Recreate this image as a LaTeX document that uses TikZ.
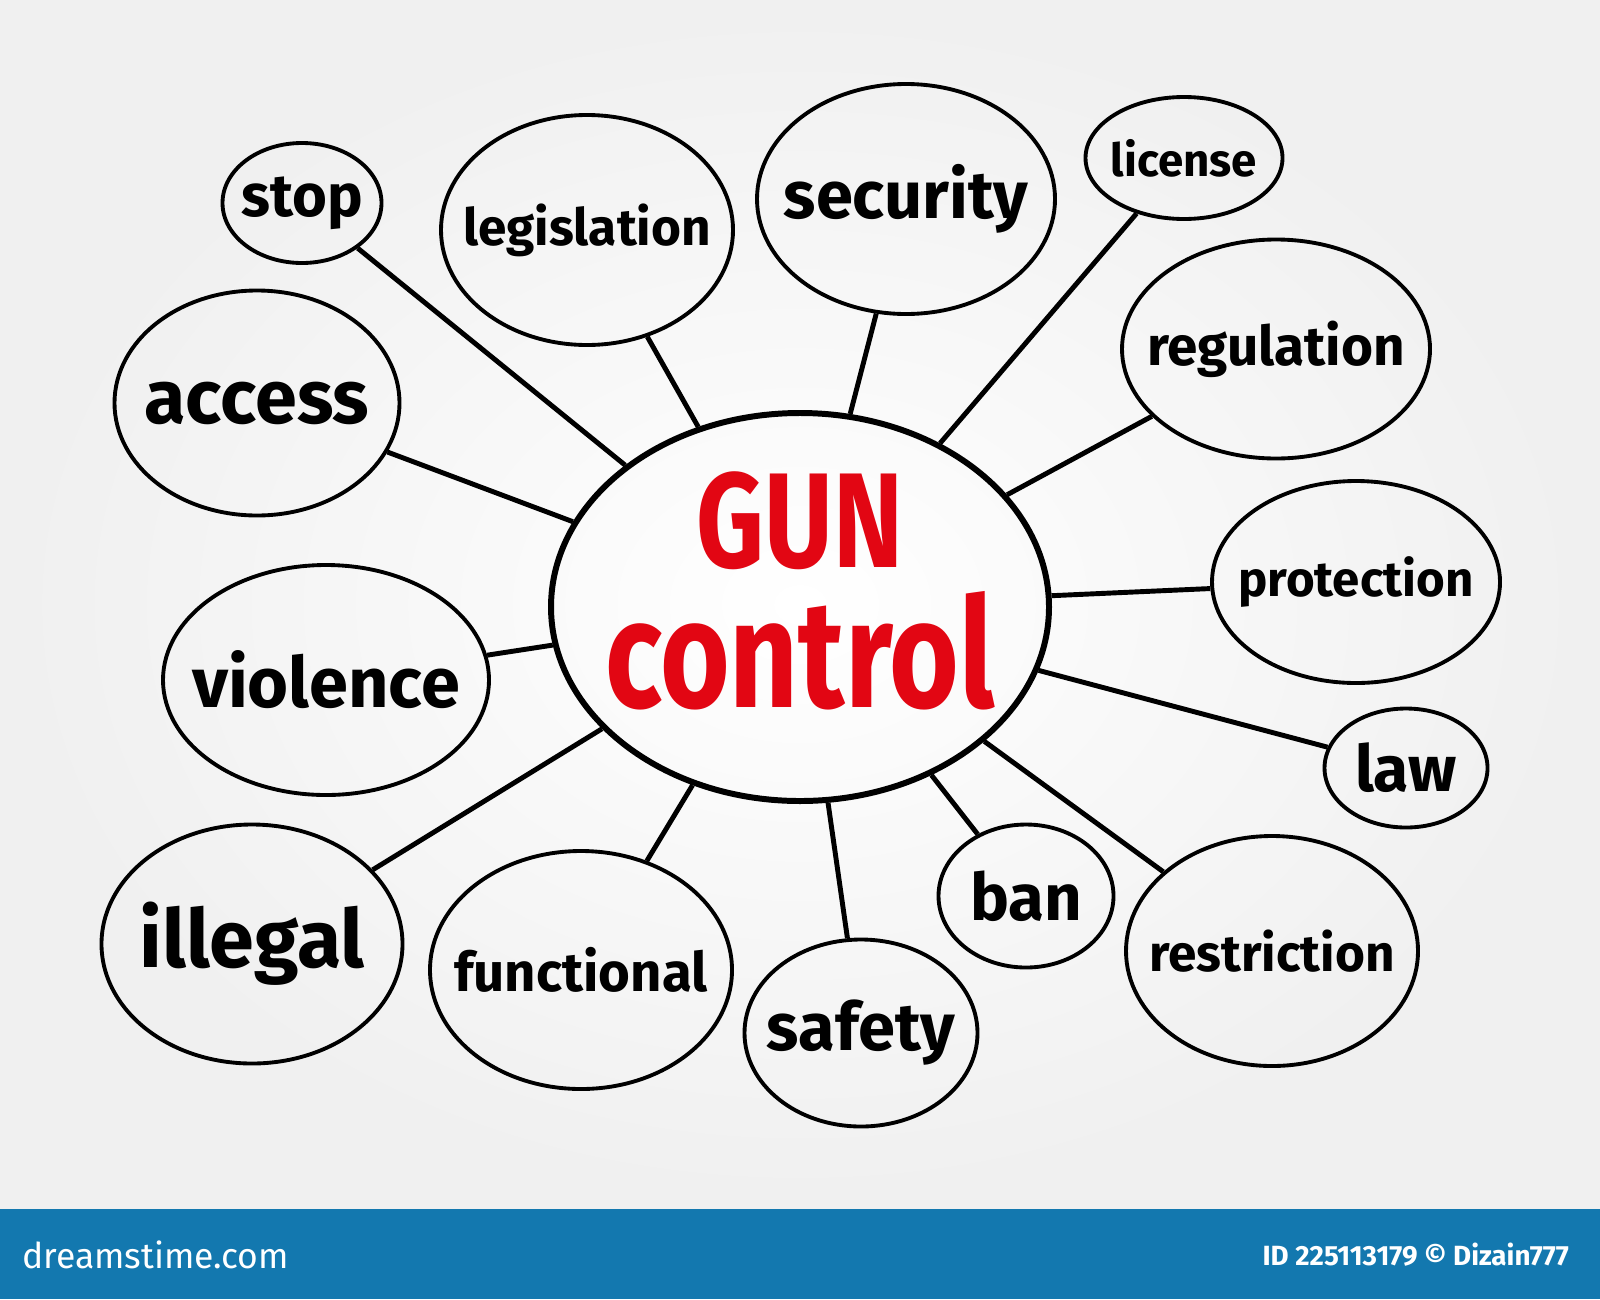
\documentclass[tikz,border=0pt]{standalone}
\usepackage{fontspec}
\setmainfont{Fira Sans}
\usetikzlibrary{shapes,positioning}
\definecolor{markerred}{RGB}{226,6,19}
\definecolor{stockblue}{RGB}{19,120,175}
\newcommand{\mapword}[1]{\makebox[0pt]{#1}}

\begin{document}
\begin{tikzpicture}[very thick,
        bubble/.style={draw, ellipse, line width=1.1pt, inner sep=0pt},
        word/.style={font=\bfseries\fontsize{#1}{#1}\selectfont},
        link/.style={line width=1.4pt}]
    \useasboundingbox (0,0) rectangle (16,-12.99);
    \shade[inner color=white, outer color=black!6] (0,0) rectangle (16,-12.09);
    \fill[stockblue] (0,-12.09) rectangle (16,-12.99);

    \node[bubble, line width=1.7pt, inner ysep=-0.3cm, minimum width=4.98cm, minimum height=3.88cm, text=markerred, font=\bfseries\fontsize{34}{34}\selectfont](gun_control) at (8.00,-6.07) {\mapword{\scalebox{1}[1.28]{\begin{tabular}{c}{\fontsize{30}{30}\selectfont GUN}\\[-5pt]control\end{tabular}}}};

    \node[bubble, word=17, minimum width=1.59cm, minimum height=1.20cm](stop) at (3.02,-2.03) {\mapword{stop}};
    \node[bubble, word=14.6, minimum width=2.92cm, minimum height=2.30cm](legislation) at (5.87,-2.30) {\mapword{legislation}};
    \node[bubble, word=19, minimum width=2.98cm, minimum height=2.30cm](security) at (9.06,-1.99) {\mapword{security}};
    \node[bubble, word=13, minimum width=1.97cm, minimum height=1.22cm](license) at (11.84,-1.58) {\mapword{license}};
    \node[bubble, word=15.6, minimum width=3.08cm, minimum height=2.19cm](regulation) at (12.76,-3.49) {\mapword{regulation}};
    \node[bubble, word=14, minimum width=2.88cm, minimum height=2.02cm](protection) at (13.56,-5.82) {\mapword{protection}};
    \node[bubble, word=18.3, minimum width=1.63cm, minimum height=1.19cm](law) at (14.06,-7.68) {\mapword{law}};
    \node[bubble, word=14.6, minimum width=2.92cm, minimum height=2.30cm](restriction) at (12.72,-9.51) {\mapword{restriction}};
    \node[bubble, word=18.6, minimum width=1.75cm, minimum height=1.43cm](ban) at (10.26,-8.96) {\mapword{ban}};
    \node[bubble, word=19, minimum width=2.33cm, minimum height=1.87cm](safety) at (8.61,-10.33) {\mapword{safety}};
    \node[bubble, word=15.5, minimum width=3.02cm, minimum height=2.38cm](functional) at (5.81,-9.70) {\mapword{functional}};
    \node[bubble, word=23, minimum width=3.01cm, minimum height=2.39cm](illegal) at (2.52,-9.44) {\mapword{illegal}};
    \node[bubble, word=20, minimum width=3.26cm, minimum height=2.30cm](violence) at (3.26,-6.80) {\mapword{violence}};
    \node[bubble, word=21.5, minimum width=2.85cm, minimum height=2.25cm](access) at (2.57,-4.03) {\mapword{access}};

    \path[link] (gun_control) edge (stop) edge (legislation) edge (security) edge (license) edge (regulation) edge (protection) edge (law) edge (restriction) edge (ban) edge (safety) edge (functional) edge (illegal) edge (violence) edge (access);

    \node[anchor=west, inner sep=0pt, text=white, font=\fontsize{10.1}{10.1}\selectfont](stock_site) at (0.20,-12.55) {dreamstime.com};
    \node[anchor=east, inner sep=0pt, text=white, font=\bfseries\fontsize{7.9}{7.9}\selectfont](stock_id) at (15.71,-12.55) {ID 225113179 © Dizain777};
\end{tikzpicture}
\end{document}
